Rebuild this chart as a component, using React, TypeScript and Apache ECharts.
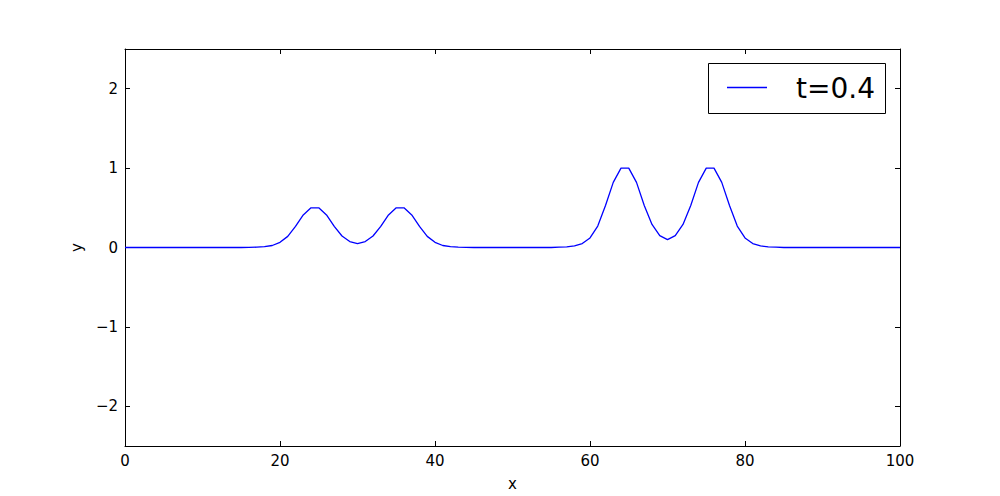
import React, { useEffect, useRef } from "react";
import * as echarts from "echarts";

const seriesName = "t=0.4";
const yValues = [
  0, 0, 0, 0, 0, 0, 0, 0, 0, 0,
  0, 0, 0, 0, 0, 0, 0.002, 0.004, 0.01, 0.025,
  0.065, 0.14, 0.265, 0.41, 0.5, 0.5, 0.41, 0.265, 0.145, 0.075,
  0.05, 0.075, 0.145, 0.265, 0.41, 0.5, 0.5, 0.41, 0.265, 0.14,
  0.065, 0.025, 0.01, 0.004, 0.002, 0, 0, 0, 0, 0,
  0, 0, 0, 0, 0, 0, 0.004, 0.008, 0.02, 0.05,
  0.12, 0.27, 0.53, 0.82, 1.0, 1.0, 0.82, 0.53, 0.29, 0.15,
  0.1, 0.15, 0.29, 0.53, 0.82, 1.0, 1.0, 0.82, 0.53, 0.27,
  0.12, 0.05, 0.02, 0.008, 0.004, 0, 0, 0, 0, 0,
  0, 0, 0, 0, 0, 0, 0, 0, 0, 0,
  0,
];

const FONT = "DejaVu Sans";

const fmt = (v: number) => {
  if (Math.abs(v - Math.round(v)) > 1e-9) return "";
  return v < 0 ? "\u2212" + Math.abs(v) : String(v);
};

export default function App() {
  const ref = useRef<HTMLDivElement>(null);
  useEffect(() => {
    if (!ref.current) return;
    const chart = echarts.init(ref.current, undefined, { renderer: "svg" });
    const tickStyle = { show: true, inside: true, length: 5, lineStyle: { color: "#000", width: 1 } };
    const lineStyle = { show: true, onZero: false, lineStyle: { color: "#000", width: 1 } };
    chart.setOption({
      animation: false,
      backgroundColor: "#fff",
      grid: { left: 125, right: 100, top: 49, bottom: 49, containLabel: false },
      xAxis: [
        {
          type: "value",
          position: "bottom",
          min: 0,
          max: 100,
          interval: 20,
          name: "x",
          nameLocation: "middle",
          nameGap: 30,
          nameTextStyle: { fontFamily: FONT, fontSize: 15, color: "#000" },
          axisLine: lineStyle,
          axisTick: tickStyle,
          axisLabel: { fontFamily: FONT, fontSize: 15, color: "#000", margin: 7, formatter: fmt },
          splitLine: { show: false },
        },
        {
          type: "value",
          position: "top",
          min: 0,
          max: 100,
          interval: 20,
          axisLine: lineStyle,
          axisTick: tickStyle,
          axisLabel: { show: false },
          splitLine: { show: false },
        },
      ],
      yAxis: [
        {
          type: "value",
          position: "left",
          min: -2.5,
          max: 2.5,
          splitNumber: 5,
          name: "y",
          nameLocation: "middle",
          nameGap: 40,
          nameTextStyle: { fontFamily: FONT, fontSize: 15, color: "#000" },
          axisLine: lineStyle,
          axisTick: tickStyle,
          axisLabel: {
            fontFamily: FONT,
            fontSize: 15,
            color: "#000",
            margin: 7,
            formatter: fmt,
            showMinLabel: false,
            showMaxLabel: false,
          },
          splitLine: { show: false },
        },
        {
          type: "value",
          position: "right",
          min: -2.5,
          max: 2.5,
          splitNumber: 5,
          axisLine: lineStyle,
          axisTick: tickStyle,
          axisLabel: { show: false },
          splitLine: { show: false },
        },
      ],
      series: [
        {
          name: seriesName,
          type: "line",
          xAxisIndex: 0,
          yAxisIndex: 0,
          showSymbol: false,
          symbol: "none",
          lineStyle: { color: "#0000ff", width: 1.3 },
          data: yValues.map((y, i) => [i, y]),
        },
      ],
      graphic: [
        {
          type: "rect",
          shape: { x: 708.5, y: 63.5, width: 177, height: 50 },
          style: { fill: "#fff", stroke: "#000", lineWidth: 1 },
          z: 100,
        },
        {
          type: "line",
          shape: { x1: 727, y1: 87.5, x2: 767, y2: 87.5 },
          style: { stroke: "#0000ff", lineWidth: 1.3 },
          z: 101,
        },
        {
          type: "text",
          x: 796,
          y: 88,
          style: {
            text: seriesName,
            fontFamily: FONT,
            fontSize: 28,
            fill: "#000",
            textVerticalAlign: "middle",
            verticalAlign: "middle",
          },
          z: 101,
        },
      ],
    });
    return () => chart.dispose();
  }, []);
  return (
    <div
      ref={ref}
      style={{ position: "fixed", left: 0, top: 0, width: 1000, height: 496 }}
    />
  );
}
